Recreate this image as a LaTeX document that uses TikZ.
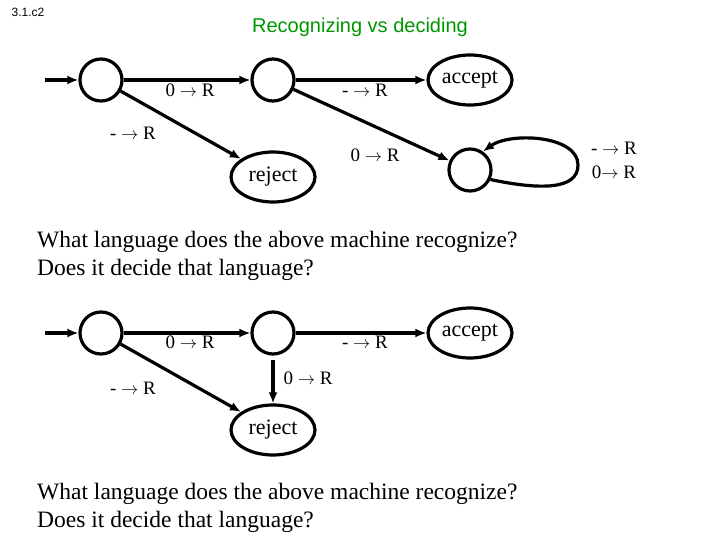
\documentclass[tikz,border=0pt]{standalone}
\usepackage{fontspec}
\setmainfont{Liberation Serif}
\newfontfamily\sansf{Liberation Sans}
\usetikzlibrary{shapes.geometric,arrows.meta}
\definecolor{titlegreen}{RGB}{0,150,0}
\begin{document}
\begin{tikzpicture}[x=1pt,y=-1pt,
  st/.style={circle,draw,line width=3.2pt,minimum size=42pt,inner sep=0},
  el/.style={ellipse,draw,line width=3.2pt,minimum width=84pt,minimum height=50pt,inner sep=0,font=\fontsize{22}{24}\selectfont},
  ed/.style={line width=3.2pt,-{Latex[length=11pt,width=9pt]}},
  lb/.style={font=\fontsize{19}{20}\selectfont,inner sep=0},
  q/.style={font=\fontsize{23.5}{26}\selectfont,anchor=west,inner sep=0}]
\useasboundingbox (0,0) rectangle (720,540);
\node[font=\sansf\fontsize{12}{13}\selectfont,inner sep=0] (num) at (28,12) {3.1.c2};
\node[font=\sansf\fontsize{20}{22}\selectfont,text=titlegreen,inner sep=0] (title) at (360,27) {Recognizing vs deciding};
% top machine
\coordinate (s1) at (45,80);
\node[st] (a1) at (101,80) {};
\node[st] (b1) at (273,80) {};
\node[el] (acc1) at (470,80) {accept};
\node[el] (rej1) at (273,177) {reject};
\node[st] (c1) at (470,170) {};
\draw[ed] (s1) -- (a1);
\draw[ed] (a1) -- (b1);
\draw[ed] (b1) -- (acc1);
\draw[ed] (a1) -- (rej1);
\draw[ed] (b1) -- (c1);
\draw[ed] (c1.-25) .. controls (540,190) and (578,190) .. (578,165) .. controls (578,135) and (510,132) .. (c1.55);
\node[lb] (l1) at (190,90) {0 $\rightarrow$ R};
\node[lb] (l2) at (365,90) {- $\rightarrow$ R};
\node[lb] (l3) at (133,133) {- $\rightarrow$ R};
\node[lb] (l4) at (375,155) {0 $\rightarrow$ R};
\node[lb] (l5) at (614,148) {- $\rightarrow$ R};
\node[lb] (l6) at (614,172) {0$\rightarrow$ R};
\node[q] (t1) at (37,242) {What language does the above machine recognize?};
\node[q] (t2) at (37,270) {Does it decide that language?};
% bottom machine
\coordinate (s2) at (45,333);
\node[st] (a2) at (101,333) {};
\node[st] (b2) at (273,333) {};
\node[el] (acc2) at (470,333) {accept};
\node[el] (rej2) at (273,430) {reject};
\draw[ed] (s2) -- (a2);
\draw[ed] (a2) -- (b2);
\draw[ed] (b2) -- (acc2);
\draw[ed] (a2) -- (rej2);
\draw[ed] (b2.south) ++(0,4) coordinate (bs) (bs) -- (rej2);
\node[lb] (m1) at (190,342) {0 $\rightarrow$ R};
\node[lb] (m2) at (365,342) {- $\rightarrow$ R};
\node[lb] (m3) at (133,388) {- $\rightarrow$ R};
\node[lb] (m4) at (308,378) {0 $\rightarrow$ R};
\node[q] (t3) at (37,494) {What language does the above machine recognize?};
\node[q] (t4) at (37,522) {Does it decide that language?};
\end{tikzpicture}
\end{document}
